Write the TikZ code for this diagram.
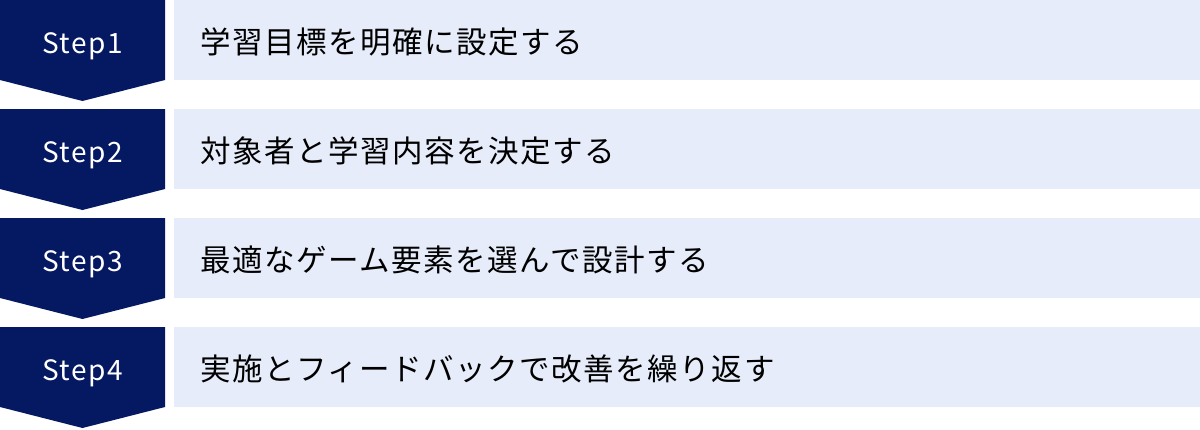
\documentclass[tikz,border=0pt]{standalone}
\usepackage{fontspec}
\setmainfont{Noto Sans CJK JP}[LetterSpace=5]
\definecolor{stepnavy}{HTML}{051862}
\definecolor{steplight}{HTML}{E6ECF9}
\tikzset{
  steptag/.style={fill=stepnavy},
  stepband/.style={fill=steplight},
  steplabel/.style={inner sep=0pt,anchor=base,text=white,font=\fontsize{28}{28}\selectfont},
  stepitem/.style={inner sep=0pt,anchor=base west,text=black,font=\fontsize{30.5}{30.5}\selectfont}
}

\begin{document}
\begin{tikzpicture}[x=1pt,y=1pt]
      \useasboundingbox (0,0) rectangle (1200,-429);

      % Step1
      \fill[steptag] (0,0) -- (165,0) -- (165,-80) -- (82.5,-101) -- (0,-80) -- cycle;
      \fill[stepband] (174,0) rectangle (1200,-80);
      \node[steplabel] (s1) at (82.5,-53) {Step1};
      \node[stepitem] (t1) at (200,-53) {学習目標を明確に設定する};

      % Step2
      \fill[steptag] (0,-109) -- (165,-109) -- (165,-189) -- (82.5,-210) -- (0,-189) -- cycle;
      \fill[stepband] (174,-109) rectangle (1200,-189);
      \node[steplabel] (s2) at (82.5,-162) {Step2};
      \node[stepitem] (t2) at (200,-162) {対象者と学習内容を決定する};

      % Step3
      \fill[steptag] (0,-218) -- (165,-218) -- (165,-298) -- (82.5,-319) -- (0,-298) -- cycle;
      \fill[stepband] (174,-218) rectangle (1200,-298);
      \node[steplabel] (s3) at (82.5,-271) {Step3};
      \node[stepitem] (t3) at (200,-271) {最適なゲーム要素を選んで設計する};

      % Step4
      \fill[steptag] (0,-327) -- (165,-327) -- (165,-407) -- (82.5,-428) -- (0,-407) -- cycle;
      \fill[stepband] (174,-327) rectangle (1200,-407);
      \node[steplabel] (s4) at (82.5,-380) {Step4};
      \node[stepitem] (t4) at (200,-380) {実施とフィードバックで改善を繰り返す};
    \end{tikzpicture}
\end{document}
